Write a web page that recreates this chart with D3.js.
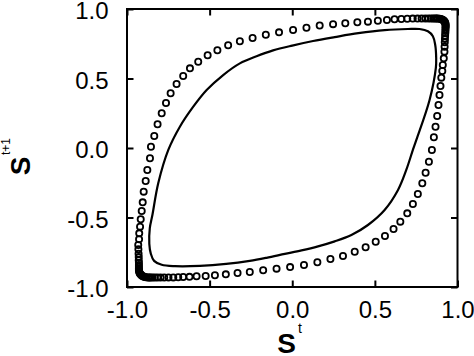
<!DOCTYPE html>
<html><head><meta charset="utf-8">
<script src="https://cdn.jsdelivr.net/npm/d3@7"></script>
<style>body{margin:0;background:#fff;}svg{display:block;}</style>
</head><body>
<svg id="c" width="474" height="356"></svg>
<script>
// Tick values and labels
const tickValues = [-1, -0.5, 0, 0.5, 1];
const tickLabels = ["-1.0", "-0.5", "0.0", "0.5", "1.0"];

// Solid closed curve (S^t, S^{t+1})
const lineX = [-0.750,-0.680,-0.599,-0.518,-0.418,-0.317,-0.216,-0.116,0.000,0.126,0.257,0.400,0.559,0.700,0.770,0.821,0.851,0.865,0.871,0.869,0.831,0.751,0.730,0.690,0.640,0.559,0.458,0.358,0.257,0.156,0.056,-0.045,-0.156,-0.257,-0.400,-0.559,-0.710,-0.790,-0.836,-0.856,-0.865,-0.862,-0.846,-0.811];
const lineY = [-0.014,0.153,0.297,0.417,0.525,0.609,0.660,0.702,0.737,0.770,0.798,0.826,0.848,0.856,0.856,0.840,0.804,0.743,0.647,0.576,0.345,0.058,-0.014,-0.158,-0.302,-0.446,-0.554,-0.626,-0.672,-0.708,-0.737,-0.762,-0.790,-0.812,-0.834,-0.848,-0.850,-0.840,-0.812,-0.760,-0.690,-0.576,-0.480,-0.254];

// Open circles: upper half of the orbit (left side up, across the top, down the right side)
const circUpX = [-0.855,-0.835,-0.815,-0.790,-0.764,-0.736,-0.700,-0.660,-0.619,-0.569,-0.512,-0.453,-0.388,-0.317,-0.240,-0.160,-0.080,0.005,0.086,0.166,0.247,0.321,0.394,0.458,0.518,0.573,0.619,0.660,0.696,
  0.729,0.758,0.783,0.805,0.824,0.840,0.853,0.864,0.873,0.880,
  0.892,0.899,0.906,0.912,0.918,0.922,0.925,0.927,
  0.928,0.928,0.928,0.927,0.927,0.926,0.925,0.924,0.923,0.922,
  0.921,0.917,0.911,0.908,0.902,0.897,0.891,0.885,0.877,0.867,0.857];
const circUpY = [0.009,0.086,0.171,0.250,0.324,0.394,0.460,0.518,0.573,0.621,0.667,0.703,0.739,0.768,0.791,0.815,0.832,0.849,0.865,0.881,0.891,0.898,0.905,0.909,0.916,0.921,0.926,0.928,0.930,
  0.931,0.931,0.932,0.932,0.932,0.932,0.932,0.931,0.931,0.931,
  0.930,0.928,0.925,0.921,0.915,0.909,0.902,0.895,
  0.887,0.878,0.868,0.856,0.842,0.826,0.807,0.785,0.760,0.729,
  0.693,0.645,0.597,0.554,0.506,0.446,0.381,0.309,0.230,0.153,0.077];
// Open circles: lower half of the orbit (right side down, across the bottom, up the left side)
const circLoX = [0.845,0.827,0.807,0.787,0.760,0.730,0.696,0.654,0.613,0.561,0.505,0.444,0.378,0.307,0.231,0.152,0.071,-0.013,-0.095,-0.176,-0.257,-0.331,-0.402,-0.468,-0.524,-0.579,-0.622,-0.660,-0.690,
  -0.720,-0.749,-0.775,-0.797,-0.816,-0.832,-0.846,-0.857,-0.866,-0.873,
  -0.885,-0.893,-0.900,-0.907,-0.913,-0.918,-0.922,-0.925,
  -0.927,-0.928,-0.928,-0.928,-0.928,-0.928,-0.929,-0.929,-0.930,-0.931,
  -0.932,-0.927,-0.926,-0.921,-0.917,-0.911,-0.905,-0.899,-0.887,-0.877,-0.861];
const circLoY = [-0.014,-0.099,-0.178,-0.254,-0.331,-0.403,-0.470,-0.530,-0.583,-0.633,-0.674,-0.714,-0.746,-0.777,-0.799,-0.822,-0.842,-0.857,-0.868,-0.880,-0.892,-0.899,-0.909,-0.916,-0.921,-0.923,-0.927,-0.928,-0.930,
  -0.931,-0.931,-0.932,-0.932,-0.932,-0.932,-0.932,-0.931,-0.931,-0.931,
  -0.930,-0.928,-0.925,-0.921,-0.915,-0.909,-0.902,-0.895,
  -0.887,-0.878,-0.868,-0.856,-0.842,-0.826,-0.807,-0.785,-0.760,-0.729,
  -0.698,-0.657,-0.614,-0.566,-0.513,-0.453,-0.391,-0.314,-0.237,-0.158,-0.074];

const pL = 127, pR = 457.5, pT = 9, pB = 287;
const svg = d3.select("#c");
const x = d3.scaleLinear().domain([-1, 1]).range([pL, pR]);
const y = d3.scaleLinear().domain([-1, 1]).range([pB, pT]);
const FONT = "'Liberation Sans', Arial, Helvetica, sans-serif";
const fmt = v => tickLabels[tickValues.indexOf(v)];

// axes
const gB = svg.append("g").attr("transform", `translate(0,${pB})`)
  .call(d3.axisBottom(x).tickValues(tickValues).tickFormat(fmt).tickSizeInner(-6.5).tickSizeOuter(0).tickPadding(14));
const gL = svg.append("g").attr("transform", `translate(${pL},0)`)
  .call(d3.axisLeft(y).tickValues(tickValues).tickFormat(fmt).tickSizeInner(-6.5).tickSizeOuter(0).tickPadding(18.5));
const gT = svg.append("g").attr("transform", `translate(0,${pT})`)
  .call(d3.axisTop(x).tickValues(tickValues).tickFormat("").tickSizeInner(-6.5).tickSizeOuter(0));
const gR = svg.append("g").attr("transform", `translate(${pR},0)`)
  .call(d3.axisRight(y).tickValues(tickValues).tickFormat("").tickSizeInner(-6.5).tickSizeOuter(0));
[gB, gL, gT, gR].forEach(g => {
  g.select(".domain").remove();
  g.selectAll(".tick line").attr("stroke", "#000").attr("stroke-width", 2);
  g.selectAll(".tick text").attr("fill", "#000").style("font-family", FONT).style("font-size", "24px");
});
gL.selectAll(".tick text").attr("dy", "0.41em");

svg.append("rect").attr("x", pL).attr("y", pT).attr("width", pR - pL).attr("height", pB - pT)
  .attr("fill", "none").attr("stroke", "#000").attr("stroke-width", 2);

// solid loop
const linePts = lineX.map((v, i) => [v, lineY[i]]);
svg.append("path").datum(linePts)
  .attr("d", d3.line().x(d => x(d[0])).y(d => y(d[1])).curve(d3.curveCatmullRomClosed.alpha(0.5)))
  .attr("fill", "none").attr("stroke", "#000").attr("stroke-width", 2.2);

// circles
const circPts = circUpX.map((v, i) => [v, circUpY[i]]).concat(circLoX.map((v, i) => [v, circLoY[i]]));
svg.append("g").selectAll("circle").data(circPts).join("circle")
  .attr("cx", d => x(d[0])).attr("cy", d => y(d[1])).attr("r", 3.1)
  .attr("fill", "none").attr("stroke", "#000").attr("stroke-width", 1.8);

// axis titles
svg.append("text").attr("x", 286.7).attr("y", 353).attr("text-anchor", "middle")
  .style("font-family", FONT).style("font-size", "28px").style("font-weight", "bold").text("S");
svg.append("text").attr("x", 300).attr("y", 333).attr("text-anchor", "middle")
  .style("font-family", FONT).style("font-size", "14px").text("t");
svg.append("text").attr("transform", "translate(30,166) rotate(-90)").attr("text-anchor", "middle")
  .style("font-family", FONT).style("font-size", "28px").style("font-weight", "bold").text("S");
svg.append("text").attr("transform", "translate(9.5,146.5) rotate(-90)").attr("text-anchor", "middle")
  .style("font-family", FONT).style("font-size", "12px").text("t+1");
</script>
</body></html>
